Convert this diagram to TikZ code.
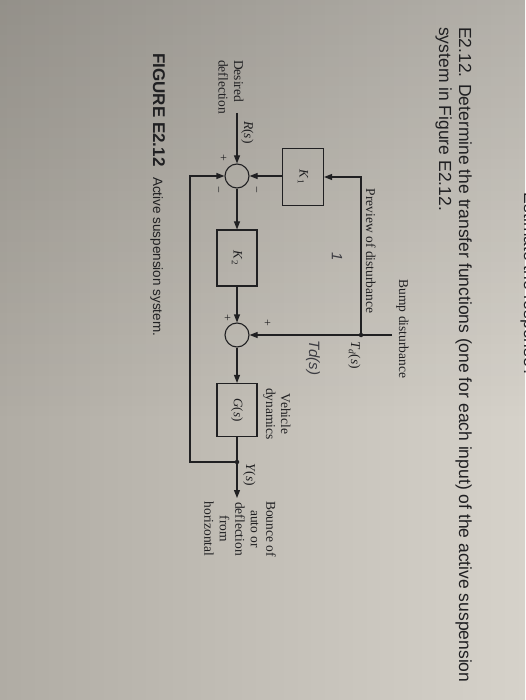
\documentclass[tikz,border=0pt]{standalone}
\usepackage{fontspec}
\setmainfont{Liberation Serif}
\newfontfamily\qfont{Liberation Sans}
\usetikzlibrary{arrows.meta,fadings}
\definecolor{paperL}{RGB}{176,172,164}
\definecolor{paperR}{RGB}{214,210,202}
\definecolor{ink}{RGB}{32,32,34}
\definecolor{pen}{RGB}{60,60,66}
\tikzfading[name=fadedown, top color=transparent!0, bottom color=transparent!100]
\begin{document}
\begin{tikzpicture}[x=1pt,y=1pt,
  wire/.style={draw=ink, line width=1.1pt},
  arr/.style={wire, -{Triangle[length=8pt,width=6pt]}},
  block/.style={draw=ink, line width=1.1pt, inner sep=0pt, text=ink,
     font=\fontsize{13}{15}\selectfont},
  sumc/.style={draw=ink, circle, line width=1.1pt, minimum size=24pt, inner sep=0pt},
  lbl/.style={text=ink, inner sep=0pt, font=\fontsize{13.5}{15.5}\selectfont},
  sgn/.style={text=ink, inner sep=0pt, font=\fontsize{12}{14}\selectfont},
  qtext/.style={text=ink, inner sep=0pt, font=\qfont\fontsize{17.5}{20}\selectfont},
  hand/.style={text=pen, inner sep=0pt, font=\qfont\itshape\fontsize{15}{17}\selectfont},
  jdot/.style={circle, fill=ink, minimum size=4.5pt, inner sep=0pt}]
\useasboundingbox (0,0) rectangle (525,-700);
\shade[left color=paperL, right color=paperR] (0,0) rectangle (525,-700);
\fill[black, opacity=0.16, path fading=fadedown] (0,0) rectangle (525,-420);
\begin{scope}[shift={(525,0)}, rotate=-90, transform shape]
  % question text
  \node[qtext, anchor=base east] (cut) at (377,-1) {Estimate the response?};
  \node[qtext, anchor=base west] (q1) at (27,-66) {E2.12. Determine the transfer functions (one for each input) of the active suspension};
  \node[qtext, anchor=base west] (q2) at (27,-86) {system in Figure E2.12.};
  % blocks
  \node[sumc] (s1) at (176,-288) {};
  \node[block, minimum width=57pt, minimum height=41pt] (K1) at (177,-222) {\textit{K}\textsubscript{1}};
  \node[block, minimum width=56pt, minimum height=40pt] (K2) at (258,-288) {\textit{K}\textsubscript{2}};
  \node[sumc] (s2) at (335,-288) {};
  \node[block, minimum width=53pt, minimum height=40pt] (G) at (410,-288) {\textit{G}(\textit{s})};
  % points
  \coordinate (Rin) at (113,-288);
  \coordinate (TdTop) at (335,-133);
  \node[jdot] (J) at (335,-164) {};
  \coordinate (pvC) at (177,-164);
  \node[jdot] (O) at (462,-288) {};
  \coordinate (Yend) at (498,-288);
  \coordinate (fbR) at (462,-335);
  \coordinate (fbL) at (176,-335);
  % connectors
  \draw[arr] (Rin) -- (s1);
  \draw[arr] (K1.south -| s1) -- (s1);
  \draw[arr] (s1) -- (K2);
  \draw[arr] (K2) -- (s2);
  \draw[arr] (TdTop) -- (s2);
  \draw[arr] (J.center) -- (pvC) -- (K1);
  \draw[arr] (s2) -- (G);
  \draw[arr] (G) -- (Yend);
  \draw[arr] (O.center) -- (fbR) -- (fbL) -- (s1);
  % labels
  \node[lbl, anchor=west, align=left] (des) at (60,-294) {Desired\\deflection};
  \node[lbl, anchor=base west] (Rl) at (121,-281) {\textit{R}(\textit{s})};
  \node[sgn] (p1) at (158,-302) {+};
  \node[sgn] (m1) at (190,-270) {\textminus};
  \node[sgn] (m2) at (190,-308) {\textminus};
  \node[sgn] (p2) at (318,-298) {+};
  \node[sgn] (p3) at (323,-258) {+};
  \node[lbl, anchor=base] (bump) at (329,-126) {Bump disturbance};
  \node[lbl, anchor=base] (prev) at (251,-159) {Preview of disturbance};
  \node[lbl, anchor=base west] (Tdl) at (341,-174) {\textit{T}\textsubscript{\textit{d}}(\textit{s})};
  \node[hand] (one) at (257,-188) {1};
  \node[hand, anchor=west] (Tdh) at (340,-212) {Td(s)};
  \node[lbl, anchor=base] (veh) at (414,-244) {Vehicle};
  \node[lbl, anchor=base] (dyn) at (414,-259) {dynamics};
  \node[lbl, anchor=base west] (Yl) at (463,-279) {\textit{Y}(\textit{s})};
  \node[lbl, anchor=center, align=center] (outl) at (529,-285) {Bounce of\\auto or\\deflection\\from\\horizontal};
  % caption
  \node[qtext, anchor=base west, font=\qfont\bfseries\fontsize{17}{19}\selectfont] (cap1) at (53,-372) {FIGURE E2.12};
  \node[qtext, anchor=base west, font=\qfont\fontsize{13.5}{16}\selectfont] (cap2) at (177,-372) {Active suspension system.};
\end{scope}
\end{tikzpicture}
\end{document}
